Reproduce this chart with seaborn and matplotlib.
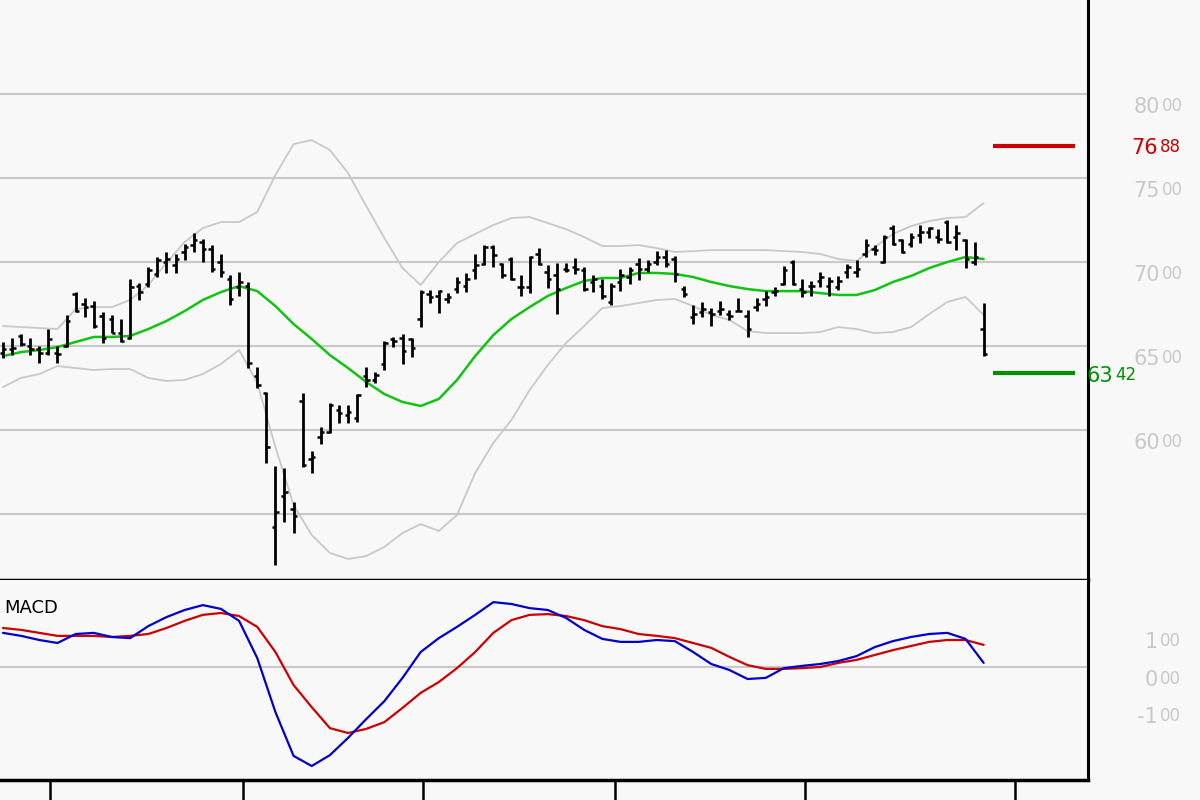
"""
Daily OHLC bars with a 20-day average, Bollinger bands and MACD below.
"""
import numpy as np
import seaborn as sns
import matplotlib.pyplot as plt
import matplotlib.transforms as mtransforms

# daily bars, one per session
opens = [64.6, 64.8, 65.6, 65.0, 64.8, 64.6, 64.6, 65.0, 68.1, 67.5,
         67.4, 66.8, 66.6, 65.8, 65.5, 68.6, 68.7, 69.3, 70.0, 69.8,
         70.6, 71.0, 71.2, 70.8, 70.0, 69.0, 68.5, 68.6, 63.2, 62.2,
         54.2, 56.1, 55.3, 61.7, 58.3, 59.6, 59.9, 61.2, 60.9, 60.7,
         63.2, 63.0, 63.9, 65.4, 65.5, 65.4, 66.6, 68.1, 68.0, 67.8,
         68.4, 68.6, 69.5, 69.9, 70.9, 69.9, 70.2, 68.5, 68.5, 70.5,
         69.4, 69.2, 69.6, 69.7, 69.5, 68.8, 68.6, 67.6, 68.8, 69.1,
         69.9, 69.6, 70.0, 70.3, 70.2, 68.4, 66.7, 67.0, 67.0, 67.1,
         66.9, 67.1, 66.8, 67.3, 67.8, 68.2, 68.7, 70.0, 68.4, 68.6,
         68.9, 68.6, 68.5, 69.4, 69.4, 70.5, 70.8, 70.0, 72.0, 71.3,
         71.1, 71.6, 71.8, 71.5, 72.4, 71.5, 71.3, 70.0, 66.0]
highs = [65.24, 65.5, 65.7, 65.5, 65.0, 66.0, 65.0, 66.85, 68.2, 67.86,
         67.7, 67.0, 66.85, 66.6, 69.0, 68.75, 69.7, 70.3, 70.6, 70.5,
         71.1, 71.7, 71.37, 71.0, 70.5, 69.2, 69.4, 68.8, 63.75, 62.26,
         57.86, 57.74, 55.7, 62.2, 58.75, 60.18, 61.6, 61.5, 61.5, 62.14,
         63.75, 63.45, 65.3, 65.54, 65.7, 65.5, 68.33, 68.33, 68.33, 68.15,
         69.1, 69.35, 70.5, 71.0, 71.0, 69.94, 70.3, 69.2, 70.36, 70.83,
         69.82, 69.94, 69.94, 70.24, 69.7, 69.2, 69.0, 68.75, 69.58, 69.7,
         70.24, 70.1, 70.65, 70.7, 70.36, 68.6, 67.44, 67.6, 67.26, 67.68,
         67.14, 67.86, 67.14, 67.86, 68.27, 68.5, 69.76, 70.12, 69.0, 68.87,
         69.4, 69.1, 69.17, 69.88, 70.12, 71.37, 71.0, 71.6, 72.2, 71.37,
         71.73, 72.2, 72.08, 71.96, 72.5, 72.2, 71.37, 71.2, 67.56]
lows = [64.29, 64.46, 65.0, 64.46, 63.99, 64.46, 63.99, 64.94, 67.0, 66.73,
        66.1, 65.2, 65.77, 65.24, 65.4, 67.74, 68.5, 69.1, 69.35, 69.35,
        70.1, 70.6, 70.0, 69.4, 69.1, 67.44, 68.0, 63.7, 62.5, 58.04,
        51.96, 54.52, 53.87, 57.8, 57.44, 59.17, 59.8, 60.4, 60.4, 60.48,
        62.56, 62.8, 63.57, 64.94, 63.93, 64.35, 66.13, 67.56, 66.96, 67.56,
        68.15, 68.2, 69.0, 69.8, 69.7, 69.05, 68.93, 68.0, 68.15, 69.82,
        68.45, 66.9, 69.4, 69.3, 68.27, 68.2, 67.8, 67.44, 68.27, 68.7,
        68.93, 69.4, 69.82, 69.7, 68.8, 67.9, 66.3, 66.73, 66.2, 66.85,
        66.55, 67.08, 65.54, 67.08, 67.38, 68.0, 68.63, 68.63, 67.9, 68.0,
        68.5, 67.98, 68.33, 69.05, 69.1, 70.3, 70.42, 69.94, 71.0, 70.54,
        70.9, 71.13, 71.43, 71.13, 71.13, 70.7, 69.64, 69.82, 64.4]
closes = [64.8, 64.9, 65.1, 64.8, 64.6, 65.4, 64.5, 66.5, 67.1, 67.3,
          66.2, 65.5, 65.8, 65.3, 68.5, 68.2, 69.5, 70.1, 70.2, 70.2,
          70.9, 71.3, 70.8, 69.6, 69.4, 67.8, 68.8, 64.0, 62.7, 59.0,
          55.1, 56.3, 54.9, 57.9, 58.4, 59.9, 61.5, 61.0, 61.1, 62.1,
          63.0, 63.3, 65.2, 65.3, 64.7, 64.9, 68.2, 67.9, 68.3, 67.9,
          68.8, 69.0, 69.8, 70.9, 70.4, 69.2, 69.0, 68.5, 70.3, 69.9,
          69.0, 68.4, 69.5, 69.6, 68.4, 69.0, 68.0, 68.6, 69.2, 69.5,
          69.6, 69.9, 70.3, 69.9, 69.3, 68.1, 66.9, 67.2, 66.9, 67.2,
          66.8, 67.1, 66.0, 67.5, 67.9, 68.3, 69.5, 68.7, 68.2, 68.6,
          69.1, 68.9, 68.9, 69.7, 69.6, 71.0, 70.7, 71.5, 71.1, 70.6,
          71.5, 71.8, 72.0, 71.4, 71.2, 71.7, 70.2, 70.3, 64.5]

# average and bands, read every second session
line_days = list(range(0, 109, 2))
sma20 = [64.40, 64.64, 64.76, 64.94, 65.24, 65.54, 65.54, 65.60, 66.01, 66.49,
         67.08, 67.74, 68.21, 68.57, 68.27, 67.38, 66.31, 65.42, 64.46, 63.69,
         62.86, 62.14, 61.67, 61.43, 61.85, 62.98, 64.40, 65.65, 66.61, 67.32,
         67.98, 68.45, 68.87, 69.05, 69.05, 69.35, 69.35, 69.29, 69.11, 68.81,
         68.57, 68.39, 68.27, 68.27, 68.27, 68.15, 68.04, 68.04, 68.33, 68.81,
         69.17, 69.64, 70.00, 70.30, 70.18]
upper_band = [66.19, 66.13, 66.07, 66.01, 67.20, 67.32, 67.32, 67.74, 68.63, 69.94,
              71.19, 72.02, 72.38, 72.38, 72.98, 75.18, 77.02, 77.26, 76.67, 75.30,
              73.33, 71.43, 69.64, 68.63, 70.00, 71.13, 71.67, 72.20, 72.62, 72.68,
              72.32, 71.96, 71.49, 70.95, 70.95, 71.01, 70.83, 70.60, 70.65, 70.71,
              70.71, 70.71, 70.71, 70.65, 70.60, 70.48, 70.18, 70.06, 70.89, 71.67,
              72.14, 72.44, 72.62, 72.68, 73.51]
lower_band = [62.56, 63.10, 63.33, 63.81, 63.69, 63.57, 63.63, 63.63, 63.10, 62.92,
              62.98, 63.33, 63.93, 64.76, 62.80, 58.99, 55.54, 53.75, 52.68, 52.32,
              52.50, 53.04, 53.87, 54.40, 53.99, 54.94, 57.44, 59.23, 60.60, 62.38,
              63.87, 65.18, 66.19, 67.26, 67.38, 67.56, 67.74, 67.80, 67.38, 66.85,
              66.55, 65.89, 65.77, 65.77, 65.77, 65.83, 66.13, 66.01, 65.77, 65.83,
              66.13, 66.90, 67.62, 67.92, 66.85]

macd_line = [0.91, 0.83, 0.72, 0.64, 0.88, 0.91, 0.80, 0.77, 1.09, 1.33,
             1.52, 1.65, 1.55, 1.23, 0.24, -1.20, -2.37, -2.64, -2.35, -1.89,
             -1.39, -0.91, -0.29, 0.40, 0.77, 1.07, 1.39, 1.73, 1.68, 1.57,
             1.52, 1.31, 0.99, 0.75, 0.67, 0.67, 0.72, 0.69, 0.40, 0.08,
             -0.08, -0.32, -0.29, -0.03, 0.03, 0.08, 0.16, 0.29, 0.53, 0.69,
             0.80, 0.88, 0.91, 0.75, 0.11]
macd_signal = [1.04, 0.99, 0.91, 0.83, 0.83, 0.83, 0.80, 0.83, 0.88, 1.04,
               1.23, 1.39, 1.44, 1.36, 1.07, 0.40, -0.48, -1.07, -1.63, -1.76,
               -1.65, -1.47, -1.09, -0.69, -0.40, -0.03, 0.40, 0.91, 1.25, 1.39,
               1.41, 1.36, 1.25, 1.09, 1.01, 0.88, 0.83, 0.77, 0.64, 0.51,
               0.27, 0.05, -0.05, -0.05, -0.03, 0.00, 0.11, 0.19, 0.32, 0.45,
               0.56, 0.67, 0.72, 0.72, 0.59]

price_grid = [55, 60, 65, 70, 75, 80]
price_labels = [60, 65, 70, 75, 80]
macd_labels = [1.0, 0.0, -1.0]
month_ticks = [5.2, 26.4, 46.3, 67.4, 88.3, 111.5]
resistance = 76.88
support = 63.42

BG = '#f8f8f8'
GRID = '#c8c8c8'


def two_part(ax, value, x_px, dy_px, color, big_size=15, small_size=12):
    # integer part large, decimals small, as on the original quote board
    big, small = f"{value:.2f}".split('.')
    base = mtransforms.blended_transform_factory(fig.transFigure, ax.transData)
    trans = mtransforms.offset_copy(base, fig=fig, x=0, y=-dy_px, units='dots')
    ax.text(x_px / 1200, value, big, transform=trans, ha='right', va='top',
            fontsize=big_size, color=color, clip_on=False)
    trans2 = mtransforms.offset_copy(base, fig=fig, x=2, y=-dy_px, units='dots')
    ax.text(x_px / 1200, value, small, transform=trans2, ha='left', va='top',
            fontsize=small_size, color=color, clip_on=False)


sns.set_style('white')
plt.rcParams['font.family'] = ['DejaVu Sans']

fig = plt.figure(figsize=(12, 8), dpi=100, facecolor=BG)
ax = fig.add_axes([0, 0.275, 1088 / 1200, 0.725], facecolor=BG)
ax2 = fig.add_axes([0, 0.025, 1088 / 1200, 0.25], facecolor=BG)

# price panel
days = np.arange(len(closes))
for g in price_grid:
    ax.axhline(g, color=GRID, lw=1.5, zorder=0)
sns.lineplot(x=line_days, y=upper_band, ax=ax, color=GRID, lw=1.3, zorder=1)
sns.lineplot(x=line_days, y=lower_band, ax=ax, color=GRID, lw=1.3, zorder=1)
sns.lineplot(x=line_days, y=sma20, ax=ax, color='#11c411', lw=1.8, zorder=2)
ax.vlines(days, lows, highs, color='black', lw=2.0, zorder=3)
ax.hlines(opens, days - 0.38, days, color='black', lw=1.8, zorder=3)
ax.hlines(closes, days, days + 0.38, color='black', lw=1.8, zorder=3)

ax.hlines(resistance, 109.0, 118.1, color='#cc0000', lw=3)
ax.hlines(support, 109.0, 118.1, color='#009000', lw=3)

ax.set_xlim(-0.33, 119.49)
ax.set_ylim(51.07, 85.6)
ax.set_xticks([])
ax.set_yticks([])
ax.set_xlabel('')
ax.set_ylabel('')
for side in ('top', 'left'):
    ax.spines[side].set_visible(False)
ax.spines['right'].set_color('black')
ax.spines['right'].set_linewidth(2.2)
ax.spines['bottom'].set_color('black')
ax.spines['bottom'].set_linewidth(2.5)

for v in price_labels:
    two_part(ax, v, 1160, 3, GRID)
two_part(ax, resistance, 1158, -8, '#cc0000')
two_part(ax, support, 1113, -7, '#009000')

# MACD panel
ax2.axhline(0, color=GRID, lw=1.5, zorder=0)
sns.lineplot(x=line_days, y=macd_signal, ax=ax2, color='#cc0000', lw=1.6)
sns.lineplot(x=line_days, y=macd_line, ax=ax2, color='#0000cc', lw=1.6)
ax2.set_xlim(-0.33, 119.49)
ax2.set_ylim(-3.013, 2.32)
ax2.set_xticks(month_ticks)
ax2.set_xticklabels([''] * len(month_ticks))
ax2.set_yticks([])
ax2.set_xlabel('')
ax2.set_ylabel('')
ax2.tick_params(axis='x', which='major', bottom=True, direction='out',
                length=16, width=1.8, color='black')
for side in ('top', 'left'):
    ax2.spines[side].set_visible(False)
ax2.spines['right'].set_color('black')
ax2.spines['right'].set_linewidth(2.2)
ax2.spines['bottom'].set_color('black')
ax2.spines['bottom'].set_linewidth(2.5)
ax2.text(0.004, 0.905, 'MACD', transform=ax2.transAxes, ha='left', va='top',
         fontsize=13, color='black')
for v in macd_labels:
    two_part(ax2, v, 1158, 2.5, GRID)

fig.savefig('out.png', dpi=100, facecolor=BG)
